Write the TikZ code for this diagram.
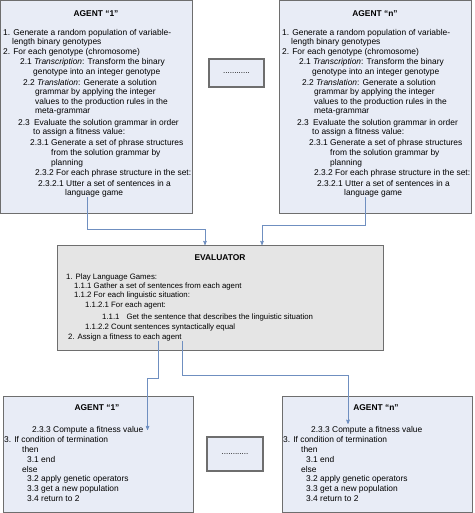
\documentclass[tikz,border=0pt]{standalone}
\usepackage{fontspec}
\setmainfont{Liberation Sans}
\usetikzlibrary{arrows,positioning,calc,shadows}
\definecolor{boxfill}{HTML}{E8ECF6}
\definecolor{evalfill}{HTML}{E5E5E5}
\definecolor{boxline}{HTML}{6E6E6E}
\definecolor{linkblue}{HTML}{6F8FC0}
\tikzset{agentbox/.style={shape=rectangle, draw=boxline, fill=boxfill,
    line width=1.1pt, inner sep=0pt,
    drop shadow={shadow xshift=.8pt, shadow yshift=-.8pt, fill=black!55}}}
\tikzset{evalbox/.style={agentbox, fill=evalfill}}
\tikzset{line/.style={anchor=west, inner sep=0pt,
    font=\fontsize{8.4}{10}\selectfont}}
\tikzset{evline/.style={line, font=\fontsize{7.8}{10}\selectfont}}
\tikzset{title/.style={inner sep=0pt, font=\fontsize{8.4}{10}\selectfont\bfseries}}
\tikzset{link/.style={->, draw=linkblue, line width=.6pt}}

% upper agent box: #1 shift, #2 prefix, #3 agent
\newcommand{\agentgen}[3]{%
  \begin{scope}[xshift=#1]
    \node[agentbox, anchor=north west, minimum width=192pt,
      minimum height=213pt] (#2) at (0,0) {};
    \node[title] (#2-t) at (96,14) {AGENT “#3”};
    \node[line] (#2-a) at (3,33) {1. Generate a random population of variable-};
    \node[line] (#2-b) at (12,42) {length binary genotypes};
    \node[line] (#2-c) at (3,52) {2. For each genotype (chromosome)};
    \node[line] (#2-d) at (20,62) {2.1 \textit{Transcription}: Transform the binary};
    \node[line] (#2-e) at (33,72) {genotype into an integer genotype};
    \node[line] (#2-f) at (23,82) {2.2 \textit{Translation}: Generate a solution};
    \node[line] (#2-g) at (35,92) {grammar by applying the integer};
    \node[line] (#2-h) at (35,102) {values to the production rules in the};
    \node[line] (#2-i) at (35,112) {meta-grammar};
    \node[line] (#2-j) at (18,123) {2.3\enspace Evaluate the solution grammar in order};
    \node[line] (#2-k) at (33,132) {to assign a fitness value:};
    \node[line] (#2-l) at (30,143) {2.3.1 Generate a set of phrase structures};
    \node[line] (#2-m) at (51,153) {from the solution grammar by};
    \node[line] (#2-n) at (51,163) {planning};
    \node[line] (#2-o) at (35,173) {2.3.2 For each phrase structure in the set:};
    \node[line] (#2-p) at (38,183) {2.3.2.1 Utter a set of sentences in a};
    \node[line] (#2-q) at (65,193) {language game};
  \end{scope}}

% lower agent box: #1 shift, #2 prefix, #3 agent
\newcommand{\agentend}[3]{%
  \begin{scope}[xshift=#1]
    \node[agentbox, anchor=north west, minimum width=190pt,
      minimum height=116pt] (#2) at (0,396) {};
    \node[title] (#2-t) at (94,408) {AGENT “#3”};
    \node[line] (#2-a) at (29,430) {2.3.3 Compute a fitness value};
    \node[line] (#2-b) at (1,439) {3. If condition of termination};
    \node[line] (#2-c) at (19,449) {then};
    \node[line] (#2-d) at (24,459) {3.1 end};
    \node[line] (#2-e) at (19,469) {else};
    \node[line] (#2-f) at (24,479) {3.2 apply genetic operators};
    \node[line] (#2-g) at (24,489) {3.3 get a new population};
    \node[line] (#2-h) at (24,499) {3.4 return to 2};
  \end{scope}}

\begin{document}
\begin{tikzpicture}[>=stealth', x=1pt, y=-1pt]
  \useasboundingbox (0,0) rectangle (474,513);
  \agentgen{0pt}{L}{1}
  \agentgen{279pt}{R}{n}
  \node[agentbox, minimum width=55pt, minimum height=28pt,
    font=\fontsize{8}{10}\selectfont] (dots1) at (236.5,73) {............};

  % evaluator
  \node[evalbox, anchor=north west, minimum width=326pt,
    minimum height=105pt] (ev) at (57,245) {};
  \node[title] (ev-t) at (220,258) {EVALUATOR};
  \node[evline] (ev-a) at (66,277) {1. Play Language Games:};
  \node[evline] (ev-b) at (74,286) {1.1.1 Gather a set of sentences from each agent};
  \node[evline] (ev-c) at (74,295) {1.1.2 For each linguistic situation:};
  \node[evline] (ev-d) at (85,305) {1.1.2.1 For each agent:};
  \node[evline] (ev-e) at (102,317) {1.1.1\hspace{7pt}Get the sentence that describes the linguistic situation};
  \node[evline] (ev-f) at (85,327) {1.1.2.2 Count sentences syntactically equal};
  \node[evline] (ev-g) at (68,337) {2. Assign a fitness to each agent};

  \agentend{3pt}{O}{1}
  \agentend{282pt}{N}{n}
  \node[agentbox, minimum width=56pt, minimum height=34pt,
    font=\fontsize{8}{10}\selectfont] (dots2) at (235,454) {............};

  % connectors
  \draw[link] ($(L-q.south west)+(22,0)$) -- ++(0,32)
    -| ($(ev.north west)+(148,0)$);
  \draw[link] ($(R-q.south west)+(21,0)$) -- ++(0,28)
    -| ($(ev.north west)+(205,0)$);
  \draw[link] ($(ev-g.south east)+(-24,0)$) -- ++(0,37)
    -| ($(O-a.east)+(4,0)$);
  \draw[link] (ev-g.south east) -- ++(0,34) -| ($(N-a.north west)+(37,-2)$);
\end{tikzpicture}
\end{document}
